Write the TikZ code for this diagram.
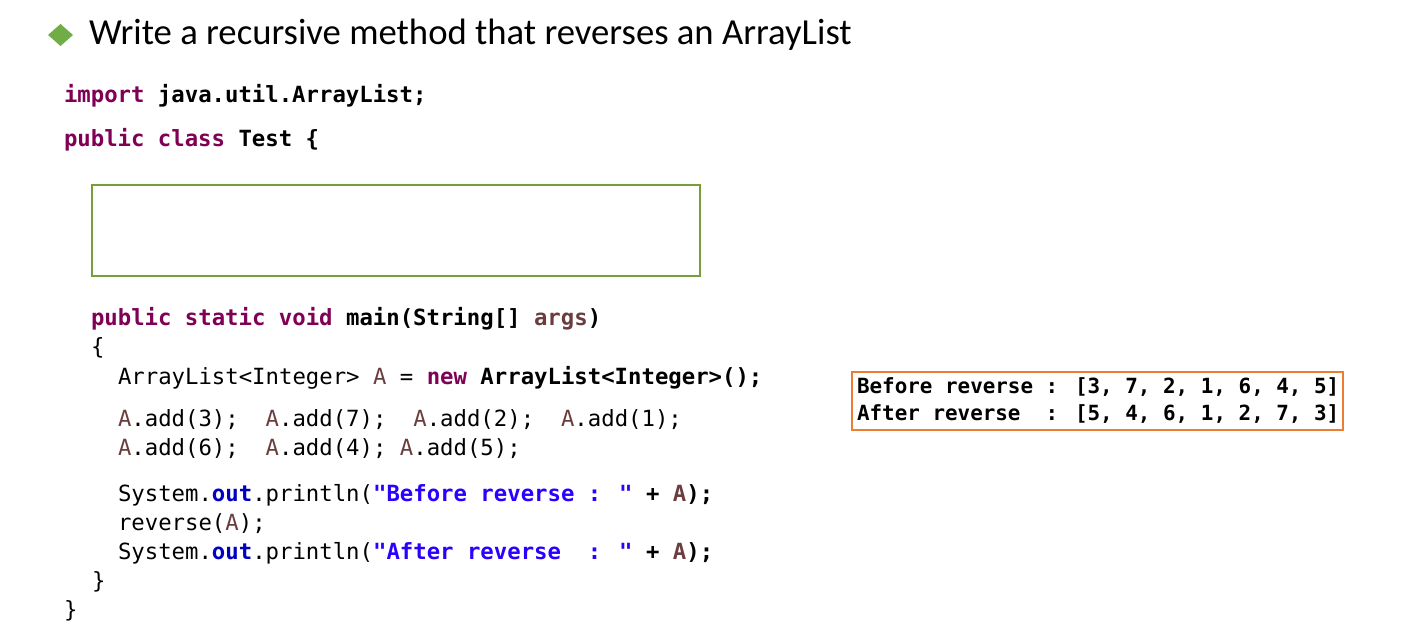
\documentclass[tikz,border=0pt]{standalone}
\usepackage{fontspec}
\setmainfont{Carlito}
\newfontfamily\codefont{DejaVu Sans Mono}
\definecolor{kwc}{HTML}{7F0055}
\definecolor{varc}{HTML}{6A3E3E}
\definecolor{strc}{HTML}{2A00FF}
\definecolor{fldc}{HTML}{0000C0}
\definecolor{boxgreen}{RGB}{118,158,58}
\definecolor{bulletgreen}{HTML}{70AD47}
\definecolor{outorange}{HTML}{ED7D31}
\newcommand{\kwd}[1]{\textbf{\textcolor{kwc}{#1}}}
\newcommand{\vrb}[1]{\textcolor{varc}{#1}}
\newcommand{\strg}[1]{\textbf{\textcolor{strc}{#1}}}
\newcommand{\fld}[1]{\textbf{\textcolor{fldc}{#1}}}
\begin{document}
\begin{tikzpicture}[x=1pt,y=-1pt,
  every node/.style={inner sep=0pt, outer sep=0pt, anchor=base west},
  codeline/.style={font=\codefont\fontsize{22.3}{26}\selectfont},
  outline/.style={font=\codefont\bfseries\fontsize{20.9}{24}\selectfont},
  titletext/.style={font=\fontsize{36.7}{44}\selectfont}]
\useasboundingbox (0,0) rectangle (1420,636);
% bullet and title
\fill[bulletgreen] (48,35) -- (60.5,24) -- (73,35) -- (60.5,46) -- cycle;
\node[titletext] (title) at (89,45) {Write a recursive method that reverses an ArrayList};
% code
\node[codeline] (l1) at (64,103) {\kwd{import} \textbf{java.util.ArrayList;}};
\node[codeline] (l2) at (64,147) {\kwd{public class} \textbf{Test \{}};
\draw[boxgreen, line width=2.5pt] (92,185) rectangle (700,276);
\node[codeline] (l3) at (91,325) {\kwd{public static void} \textbf{main(String[] \vrb{args})}};
\node[codeline] (l4) at (91,354) {\{};
\node[codeline] (l5) at (118,384) {ArrayList<Integer> \vrb{A} = \kwd{new} \textbf{ArrayList<Integer>();}};
\node[codeline] (l6) at (118,426) {\vrb{A}.add(3);~~\vrb{A}.add(7);~~\vrb{A}.add(2);~~\vrb{A}.add(1);};
\node[codeline] (l7) at (118,455) {\vrb{A}.add(6);~~\vrb{A}.add(4);~\vrb{A}.add(5);};
\node[codeline] (l8) at (118,501) {System.\fld{out}.println(\strg{"Before reverse : "} \textbf{+ \vrb{A});}};
\node[codeline] (l9) at (118,530) {reverse(\vrb{A});};
\node[codeline] (l10) at (118,559) {System.\fld{out}.println(\strg{"After reverse~~: "} \textbf{+ \vrb{A});}};
\node[codeline] (l11) at (92,588) {\}};
\node[codeline] (l12) at (64,617) {\}};
% output box
\draw[outorange, line width=1.5pt] (852,372) rectangle (1343,430);
\node[outline] (o1) at (857,393) {Before reverse : [3, 7, 2, 1, 6, 4, 5]};
\node[outline] (o2) at (857,420) {After reverse~~: [5, 4, 6, 1, 2, 7, 3]};
\end{tikzpicture}
\end{document}
